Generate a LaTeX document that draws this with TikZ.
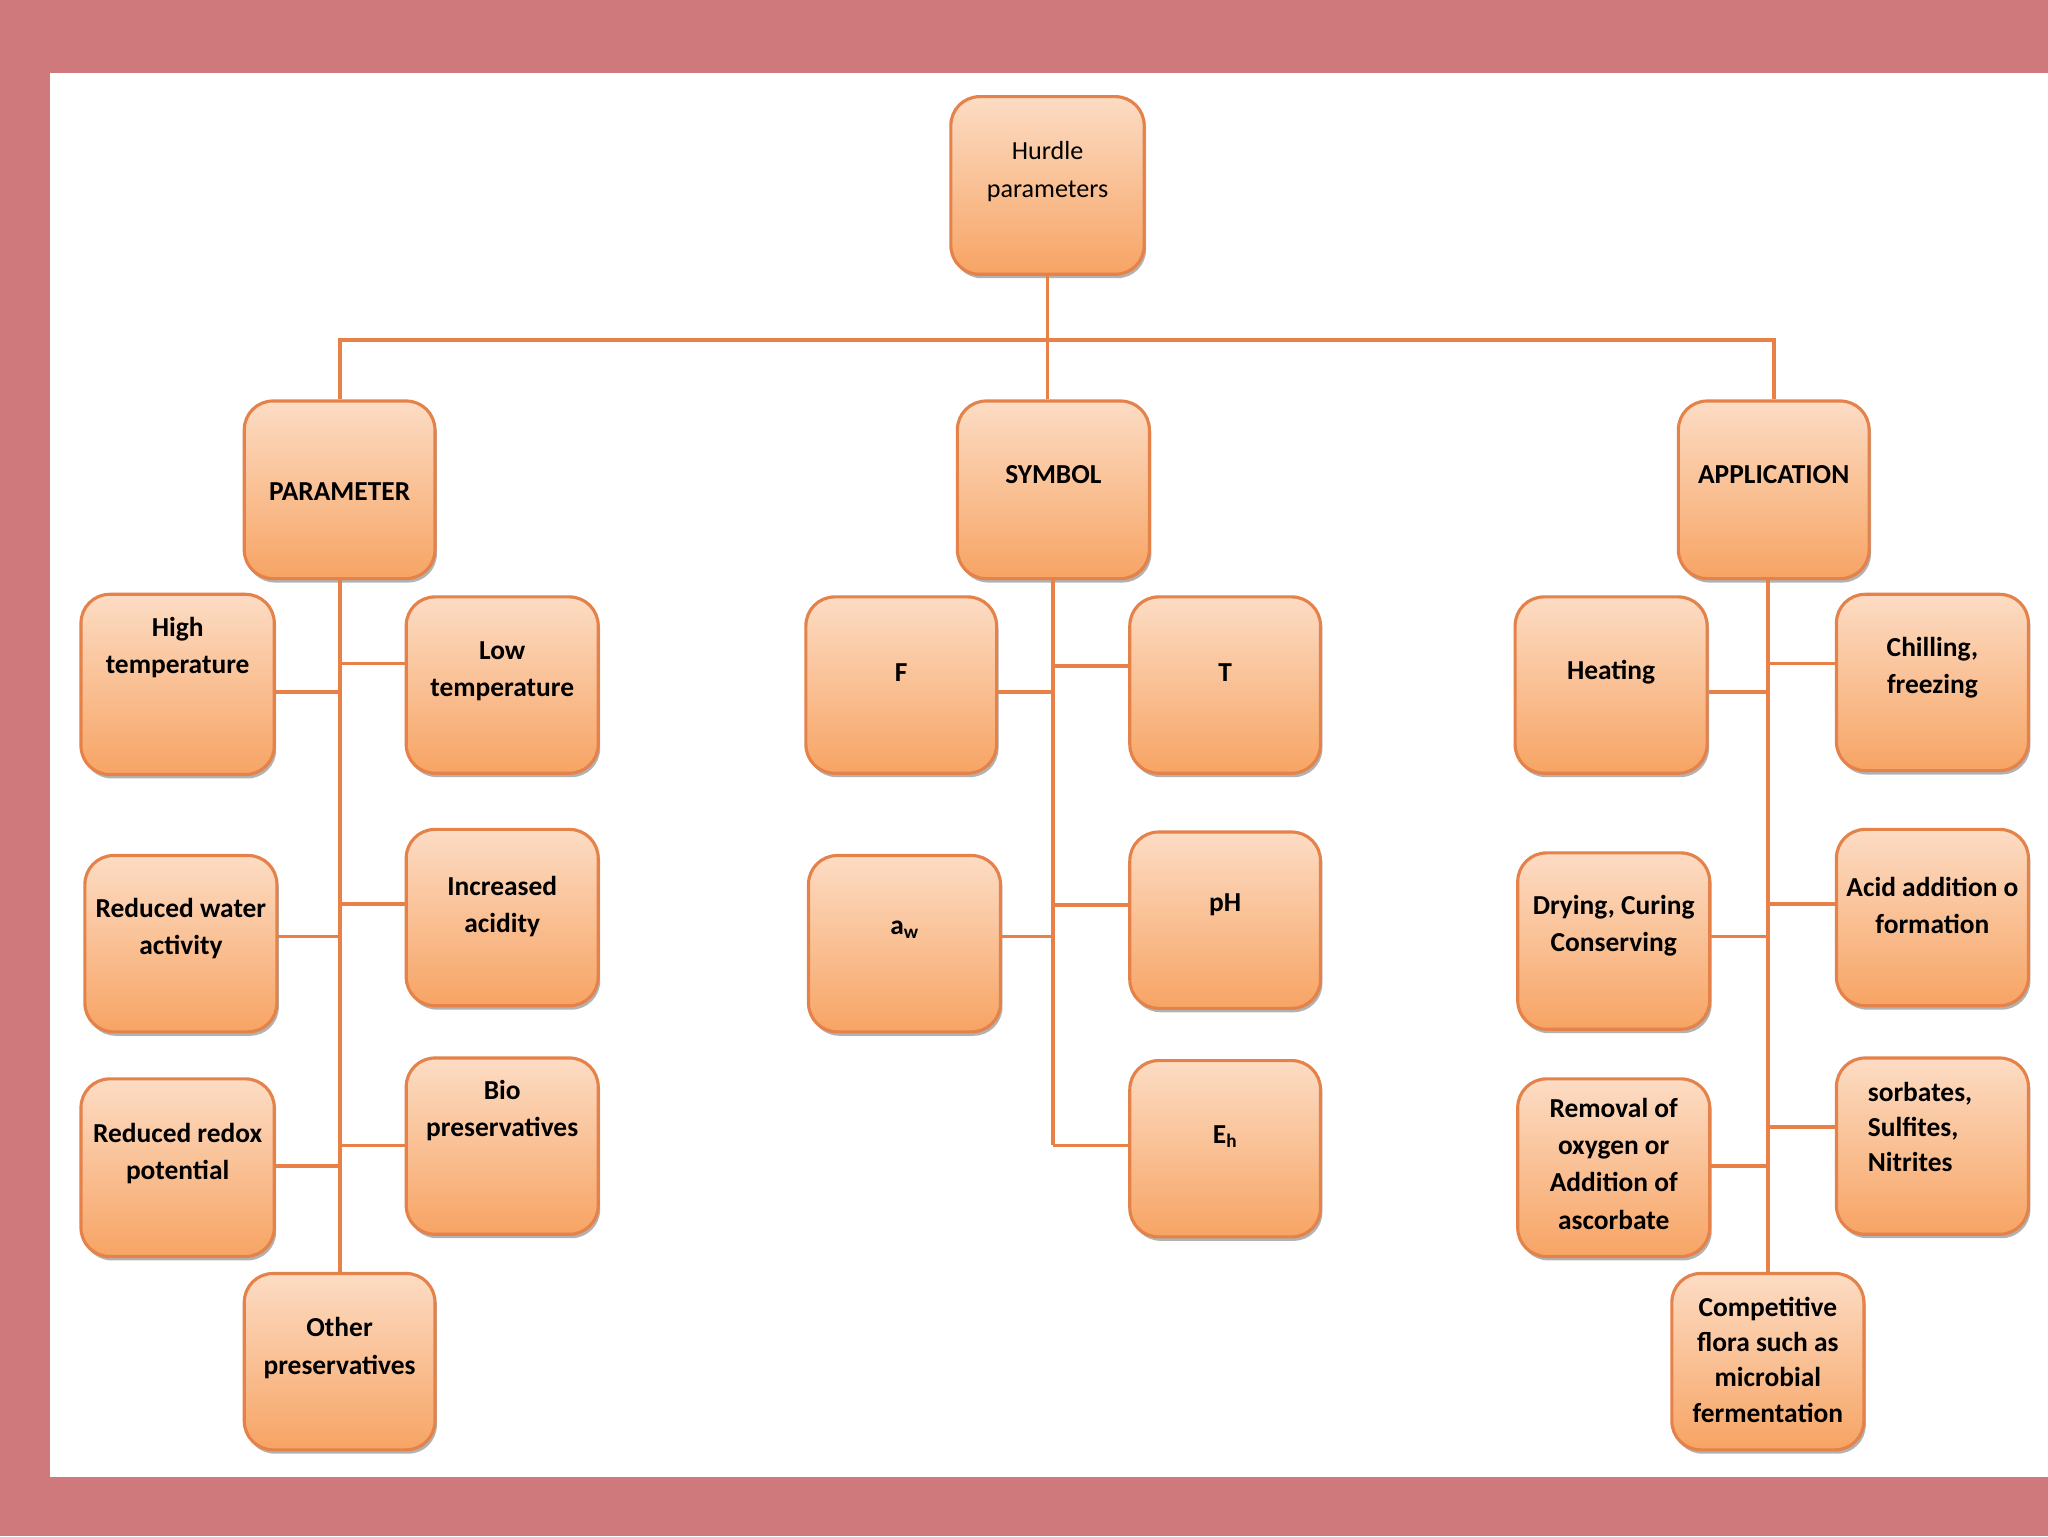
\documentclass[tikz,border=0pt]{standalone}
\usepackage{fontspec}
\setmainfont{Carlito}
\usetikzlibrary{shadows}
\definecolor{bgpink}{RGB}{207,121,125}
\definecolor{boxtop}{RGB}{252,220,196}
\definecolor{boxbot}{RGB}{247,164,100}
\definecolor{boxline}{RGB}{228,130,74}
\definecolor{linec}{RGB}{233,128,72}
\tikzset{
 hbox/.style={rectangle, rounded corners=22pt, draw=boxline, line width=2.4pt,
   top color=boxtop, bottom color=boxbot,
   drop shadow={shadow xshift=1.5pt, shadow yshift=-3pt, opacity=0.3, fill=black},
   inner sep=0pt},
 htxt/.style={font=\fontsize{21}{28.5}\selectfont\bfseries, align=center, text=black, inner sep=0pt},
 conn/.style={draw=linec, line width=3pt},
}
\newcommand\hbx[7]{%
 \node[hbox, minimum width={#4-#2}, minimum height={#5-#3}] (#1) at ({(#2+#4)/2},{(#3+#5)/2}) {};
 \node[htxt] (#1t) at ({(#2+#4)/2},#6) {#7};}
\newcommand\lnk[3]{%
 \coordinate (lk) at (0,#3);
 \draw[conn] (#1 |- lk) -- (#2 |- lk);}
\begin{document}
\begin{tikzpicture}[x=1pt,y=-1pt]
\fill[bgpink] (0,0) rectangle (1568,1176);
\fill[white] (38,56) rectangle (1568,1131);
\useasboundingbox (0,0) rectangle (1568,1176);

% connectors (drawn first, boxes on top)
\coordinate (bar) at (0,260);
\coordinate (symend) at (0,877);

% top
\node[hbox, minimum width=148, minimum height=136] (hur) at (802,142) {};
\node[htxt, font=\fontsize{20}{29}\selectfont] (hurt) at (802,131) {Hurdle\\parameters};
\hbx{par}{187}{307}{333}{443}{376}{PARAMETER}
\hbx{sym}{733}{307}{880}{443}{363}{SYMBOL}
\hbx{app}{1285}{307}{1431}{443}{363}{APPLICATION}

% parameter column
\hbx{ht}{62}{455}{210}{593}{496}{High\\temperature}
\hbx{lt}{311}{457}{458}{592}{514}{Low\\temperature}
\hbx{rw}{65}{655}{212}{790}{711}{Reduced water\\activity}
\hbx{ia}{311}{635}{458}{770}{694}{Increased\\acidity}
\hbx{rr}{62}{826}{210}{962}{883}{Reduced redox\\potential}
\hbx{bp}{311}{810}{458}{945}{850}{Bio\\preservatives}
\hbx{op}{187}{975}{333}{1110}{1032}{Other\\preservatives}

% symbol column
\hbx{f}{617}{457}{763}{592}{515}{F}
\hbx{t}{865}{457}{1011}{592}{515}{T}
\hbx{aw}{619}{655}{766}{790}{712}{a\textsubscript{w}}
\hbx{ph}{865}{637}{1011}{772}{693}{pH}
\hbx{eh}{865}{812}{1011}{947}{870}{E\textsubscript{h}}

% application column
\hbx{he}{1160}{457}{1307}{592}{515}{Heating}
\hbx{cf}{1406}{455}{1553}{590}{511}{Chilling,\\freezing}
\hbx{dc}{1162}{653}{1309}{788}{709}{Drying, Curing\\Conserving}
\hbx{aa}{1406}{635}{1553}{770}{693}{Acid addition o\\formation}
\hbx{ro}{1162}{826}{1309}{962}{891}{Removal of\\oxygen or\\Addition of\\ascorbate}
\node[hbox, minimum width=147, minimum height=135] (ss) at (1479.5,877.5) {};
\node[htxt, align=left, font=\fontsize{21}{27}\selectfont\bfseries] (sst) at (1470,863) {sorbates,\\Sulfites,\\Nitrites};
\node[hbox, minimum width=147, minimum height=135] (cm) at (1353.5,1042.5) {};
\node[htxt, font=\fontsize{21}{27}\selectfont\bfseries] (cmt) at (1353.5,1041) {Competitive\\flora such as\\microbial\\fermentation};

% connectors
\draw[conn] (par.north) -- (par.north |- bar) -- (app.north |- bar) -- (app.north);
\draw[conn] (hur.south) -- (hur.south |- sym.north);

\draw[conn] (par.south) -- (op.north);
\lnk{ht.east}{par.south}{530}
\lnk{lt.west}{par.south}{508}
\lnk{rw.east}{par.south}{717}
\lnk{ia.west}{par.south}{692}
\lnk{rr.east}{par.south}{893}
\lnk{bp.west}{par.south}{877}

\draw[conn] (sym.south) -- (sym.south |- symend);
\lnk{f.east}{sym.south}{530}
\lnk{t.west}{sym.south}{510}
\lnk{aw.east}{sym.south}{717}
\lnk{ph.west}{sym.south}{693}
\lnk{eh.west}{sym.south}{877}

\draw[conn] (cm.north |- app.south) -- (cm.north);
\lnk{he.east}{cm.north}{530}
\lnk{cf.west}{cm.north}{508}
\lnk{dc.east}{cm.north}{717}
\lnk{aa.west}{cm.north}{692}
\lnk{ro.east}{cm.north}{893}
\lnk{ss.west}{cm.north}{863}
\end{tikzpicture}
\end{document}
